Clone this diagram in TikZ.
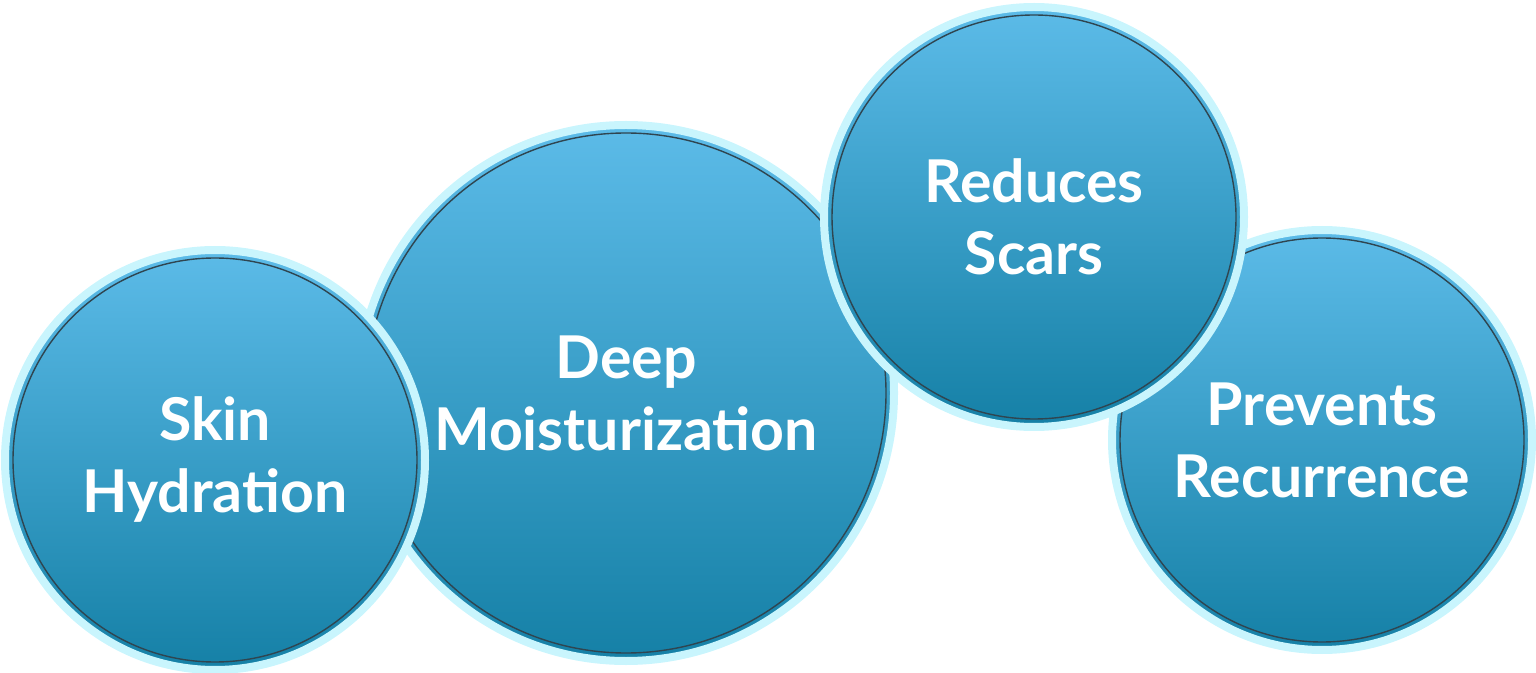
\documentclass[tikz,border=0pt]{standalone}
\usepackage{fontspec}
\setmainfont{Lato}
\begin{document}
\begin{tikzpicture}[x=0.5pt,y=-0.5pt]
\definecolor{topc}{HTML}{5CBBE8}
\definecolor{botc}{HTML}{1580A6}
\definecolor{ringc}{HTML}{C9F5FD}
\definecolor{edgec}{HTML}{2F4550}
\tikzset{bub/.style={circle,inner sep=0pt,minimum size=#1,top color=topc,bottom color=botc,draw=ringc,line width=4pt,
   text=white,font=\bfseries\fontsize{29.5}{36}\selectfont,align=center},
 edge/.style={draw=edgec,line width=0.7pt}}
\useasboundingbox (0,0) rectangle (1536,673);
\newcommand\bubble[5]{%
  \node[bub=#4pt] (#1) at (#2,#3) {#5};
  \draw[edge] (#1.center) circle[radius=#4-8];}
\bubble{deep}{626}{393}{268}{Deep\\Moisturization}
\bubble{skin}{215}{460}{210}{Skin\\Hydration}
\bubble{prev}{1322}{440}{210}{Prevents\\Recurrence}
\bubble{red}{1034}{217}{210}{Reduces\\Scars}
\end{tikzpicture}
\end{document}
